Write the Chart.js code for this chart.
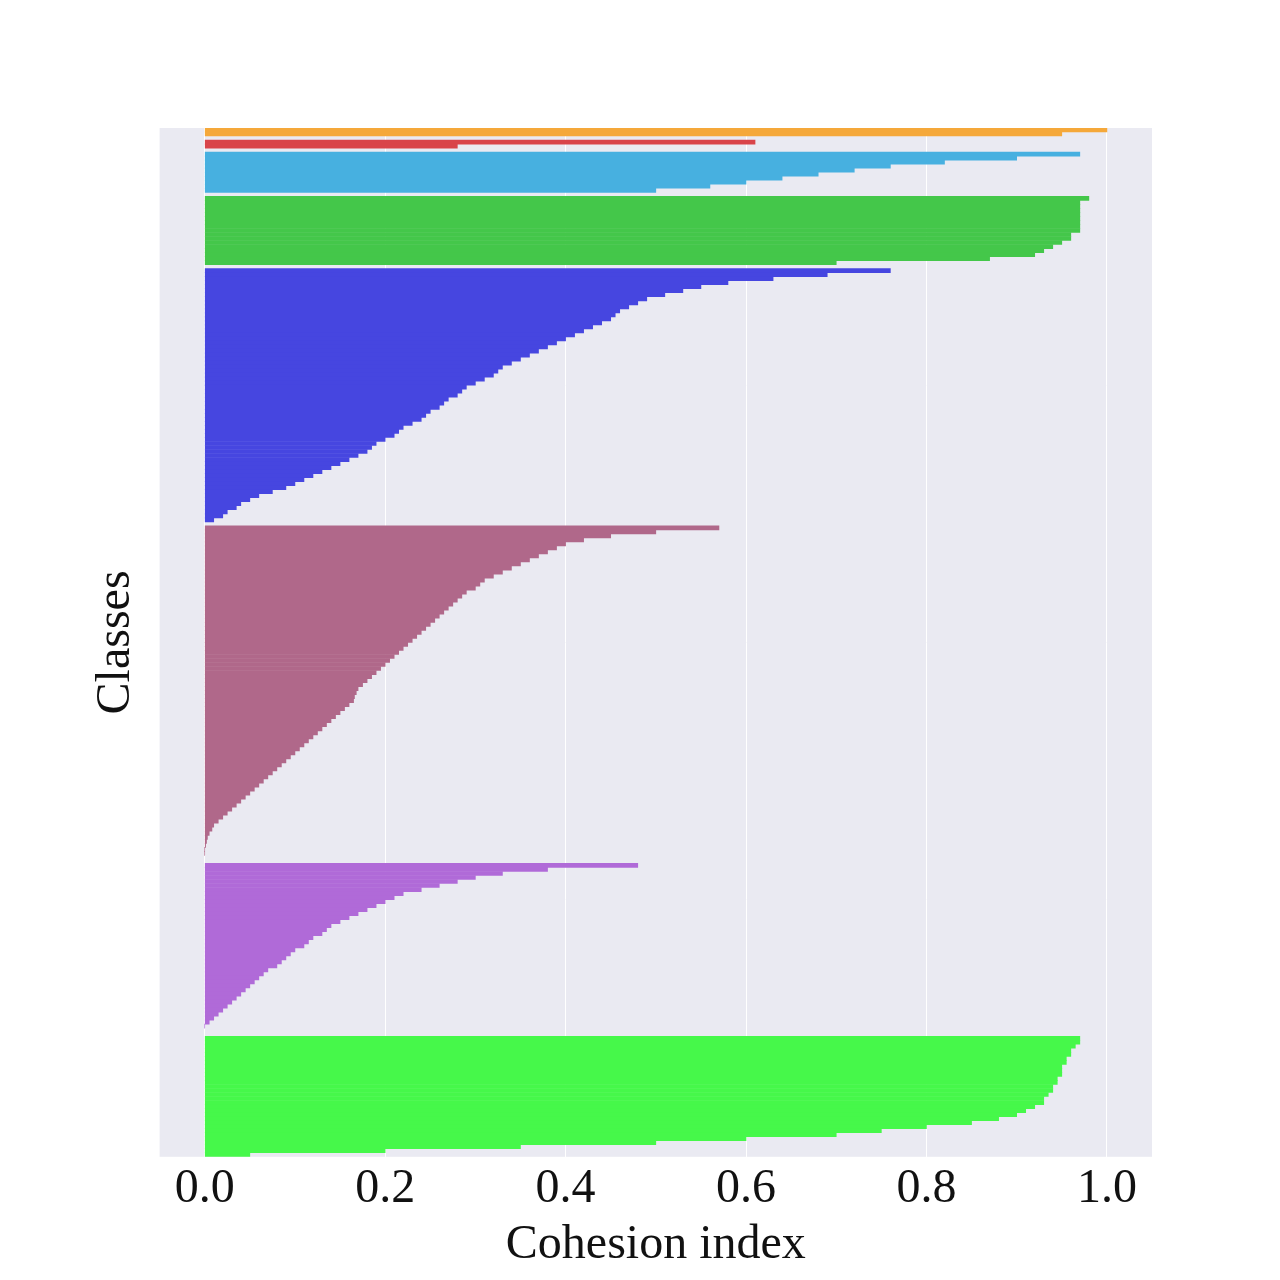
<!DOCTYPE html>
<html><head><meta charset="utf-8">
<script src="https://cdn.jsdelivr.net/npm/chart.js@4"></script>
<style>html,body{margin:0;background:#fff}#w{width:1280px;height:1280px}</style>
</head><body><div id="w"><canvas id="c"></canvas></div>
<script>
const xTicks=[0,0.2,0.4,0.6,0.8,1.0];
const clusterColors=['#f5a83a','#d9444a','#47b0e0','#44c74a','#4646e0','#b0688a','#b06ad8','#46f84a'];
const orange=[1.0,0.95];
const red=[0.61,0.28];
const lightBlue=[0.97,0.9,0.82,0.76,0.72,0.68,0.64,0.6,0.56,0.5];
const green=[0.98,0.97,0.97,0.97,0.97,0.97,0.97,0.97,0.97,0.96,0.96,0.95,0.94,0.93,0.92,0.87,0.7];
const blue=[0.76,0.69,0.63,0.58,0.55,0.53,0.51,0.49,0.48,0.47,0.46,0.455,0.45,0.44,0.43,0.42,0.41,0.40,0.39,0.38,0.37,0.36,0.35,0.34,0.33,0.325,0.32,0.31,0.30,0.29,0.285,0.28,0.27,0.265,0.26,0.25,0.245,0.24,0.23,0.22,0.215,0.21,0.20,0.19,0.185,0.18,0.17,0.16,0.15,0.14,0.13,0.12,0.11,0.10,0.09,0.075,0.06,0.05,0.04,0.035,0.025,0.02,0.01];
const mauve=[0.57,0.5,0.45,0.42,0.40,0.39,0.38,0.37,0.36,0.35,0.34,0.33,0.32,0.31,0.305,0.30,0.29,0.285,0.28,0.275,0.27,0.265,0.26,0.255,0.25,0.245,0.24,0.235,0.23,0.225,0.22,0.215,0.21,0.205,0.20,0.195,0.19,0.185,0.18,0.175,0.17,0.168,0.166,0.165,0.16,0.155,0.15,0.145,0.14,0.135,0.13,0.125,0.12,0.115,0.11,0.105,0.10,0.095,0.09,0.085,0.08,0.075,0.07,0.065,0.06,0.055,0.05,0.045,0.04,0.035,0.03,0.025,0.02,0.015,0.01,0.008,0.005,0.003,0.002,0.001,0.0,0.0];
const purple=[0.48,0.38,0.33,0.30,0.28,0.26,0.24,0.22,0.21,0.2,0.19,0.18,0.17,0.16,0.15,0.14,0.135,0.13,0.12,0.115,0.11,0.10,0.095,0.09,0.085,0.08,0.07,0.065,0.06,0.055,0.05,0.045,0.04,0.035,0.03,0.025,0.02,0.015,0.01,0.005,0.0];
const brightGreen=[0.97,0.97,0.965,0.96,0.96,0.955,0.955,0.95,0.95,0.95,0.945,0.945,0.94,0.94,0.935,0.93,0.93,0.92,0.91,0.9,0.88,0.85,0.8,0.75,0.7,0.6,0.5,0.35,0.2,0.05];
const clusters=[orange,red,lightBlue,green,blue,mauve,purple,brightGreen];
const gapsAfter=[1,1,1,1,1,2,2,0];

const labels=[],vals=[],cols=[];
clusters.forEach((arr,ci)=>{
  arr.forEach(v=>{labels.push('');vals.push(v);cols.push(clusterColors[ci]);});
  for(let g=0;g<gapsAfter[ci];g++){labels.push('');vals.push(null);cols.push('rgba(0,0,0,0)');}
});

const bg={id:'bg',beforeDraw(ch){const a=ch.chartArea,c=ch.ctx;c.save();c.fillStyle='#eaeaf2';c.fillRect(a.left,a.top,a.right-a.left,a.bottom-a.top);c.restore();}};
new Chart(document.getElementById('c'),{
  type:'bar',
  data:{labels,datasets:[{data:vals,backgroundColor:cols,borderWidth:0,barPercentage:1,categoryPercentage:1}]},
  options:{indexAxis:'y',responsive:true,maintainAspectRatio:false,animation:false,
    layout:{padding:{top:128,right:128,left:84,bottom:2}},
    plugins:{legend:{display:false},tooltip:{enabled:false}},
    scales:{
      x:{min:-0.05,max:1.05,
        afterBuildTicks(s){s.ticks=xTicks.map(v=>({value:v}));},
        grid:{color:'#ffffff',lineWidth:1,drawTicks:false},border:{display:false},
        ticks:{color:'#111',font:{family:'Liberation Serif',size:48},padding:4,callback:v=>Number(v).toFixed(1)},
        title:{display:true,text:'Cohesion index',color:'#111',font:{family:'Liberation Serif',size:48},padding:{top:-6}}},
      y:{grid:{display:false},border:{display:false},ticks:{display:false},
        title:{display:true,text:'Classes',color:'#111',font:{family:'Liberation Serif',size:48},padding:{bottom:6}}}
    }},
  plugins:[bg]
});
</script></body></html>
